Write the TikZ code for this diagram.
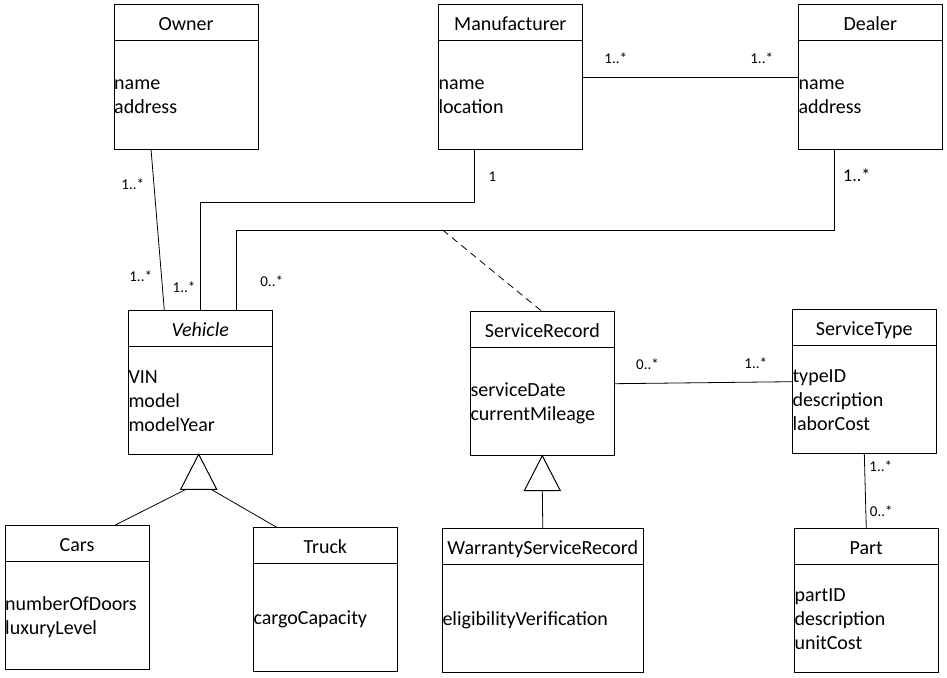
\documentclass[tikz,border=0pt]{standalone}
\usepackage{fontspec}
\setmainfont{Carlito}
\usetikzlibrary{positioning,calc}

% class box: name, width, x, y, title, attributes
\newcommand{\umlclass}[6]{%
  \node[classbox, minimum width=#2] (#1) at (#3,#4) {};
  \draw[classline] ([yshift=-36pt]#1.north west) -- ([yshift=-36pt]#1.north east);
  \node[classtitle] (#1-title) at ([yshift=-26pt]#1.north) {#5};
  \node[attrs] (#1-attrs) at ([yshift=-20pt]#1.west) {\strut#6\strut};
}

\begin{document}
\begin{tikzpicture}[x=1pt,y=-1pt,
    classbox/.style={draw, line width=1pt, minimum height=144pt, inner sep=0pt, outer sep=0pt, anchor=north west},
    classline/.style={line width=1pt},
    classtitle/.style={anchor=base, inner sep=0pt, font=\fontsize{20}{24}\selectfont},
    attrs/.style={anchor=west, align=left, inner sep=0pt, font=\fontsize{20}{24}\selectfont},
    assoc/.style={line width=0.8pt},
    multlabel/.style={inner sep=0pt, font=\fontsize{15}{18}\selectfont}]
    \useasboundingbox (0,0) rectangle (947,677);

    % Top row
    \umlclass{owner}{144pt}{114}{5}{Owner}{name\\address}
    \umlclass{manufacturer}{144pt}{438.3}{5}{Manufacturer}{name\\location}
    \umlclass{dealer}{144pt}{798.3}{5}{Dealer}{name\\address}

    % Middle row
    \umlclass{vehicle}{144pt}{128.3}{310.3}{\itshape Vehicle}{VIN\\model\\modelYear}
    \umlclass{servicerecord}{144pt}{470.3}{311.7}{ServiceRecord}{serviceDate\\currentMileage}
    \umlclass{servicetype}{144pt}{792.3}{309.7}{ServiceType}{typeID\\description\\laborCost}

    % Bottom row
    \umlclass{cars}{144pt}{5}{525.3}{Cars}{numberOfDoors\\luxuryLevel}
    \umlclass{truck}{144pt}{253.3}{527.3}{Truck}{cargoCapacity}
    \umlclass{warranty}{201pt}{442.3}{528.7}{WarrantyServiceRecord}{eligibilityVerification}
    \umlclass{part}{144pt}{794.3}{528.7}{Part}{partID\\description\\unitCost}

    % Associations
    \draw[assoc] (manufacturer.east) -- (dealer.west);
    \draw[assoc] ([xshift=-35pt]owner.south) -- ([xshift=-36pt]vehicle.north);
    \draw[assoc] ([xshift=-36pt]manufacturer.south) -- ++(0,53) -| (vehicle.north);
    \draw[assoc] ([xshift=-36pt]dealer.south) -- ++(0,81) -| ([xshift=36pt]vehicle.north);
    \coordinate (srlink) at (442.7,230);
    \draw[assoc, dash pattern=on 7pt off 5pt] (srlink) -- (servicerecord.north);
    \draw[assoc] (servicerecord.east) -- (servicetype.west);
    \draw[assoc] (servicetype.south) -- (part.north);

    % Generalizations
    \draw[classline] ([xshift=-1.6pt]vehicle.south) coordinate (vgen) -- ++(-18,35) -- ++(36,0) -- cycle;
    \coordinate (vgen-l) at ($(vgen)+(-12.7,35)$);
    \coordinate (vgen-r) at ($(vgen)+(12.3,35)$);
    \draw[assoc] (vgen-l) -- ([xshift=37.8pt]cars.north);
    \draw[assoc] (vgen-r) -- ([xshift=-48.6pt]truck.north);
    \draw[classline] (servicerecord.south) coordinate (sgen) -- ++(-18,35) -- ++(36,0) -- cycle;
    \coordinate (sgen-b) at ($(sgen)+(0,35)$);
    \draw[assoc] (sgen-b) -- (warranty.north);

    % Multiplicities
    \node[multlabel] (md-l) at (615.8,58.3) {1..*};
    \node[multlabel] (md-r) at (761.7,58.3) {1..*};
    \node[multlabel, font=\fontsize{18}{22}\selectfont] (dv-d) at (856.7,175) {1..*};
    \node[multlabel] (mv-m) at (492.5,177) {1};
    \node[multlabel] (ov-o) at (132.8,184) {1..*};
    \node[multlabel] (ov-v) at (140.7,275.8) {1..*};
    \node[multlabel] (mv-v) at (184,287.5) {1..*};
    \node[multlabel] (dv-v) at (271.7,280.8) {0..*};
    \node[multlabel] (ss-r) at (647.5,364) {0..*};
    \node[multlabel] (ss-t) at (755.8,363) {1..*};
    \node[multlabel] (sp-t) at (880.8,465.8) {1..*};
    \node[multlabel] (sp-p) at (881.3,510.8) {0..*};
\end{tikzpicture}
\end{document}
